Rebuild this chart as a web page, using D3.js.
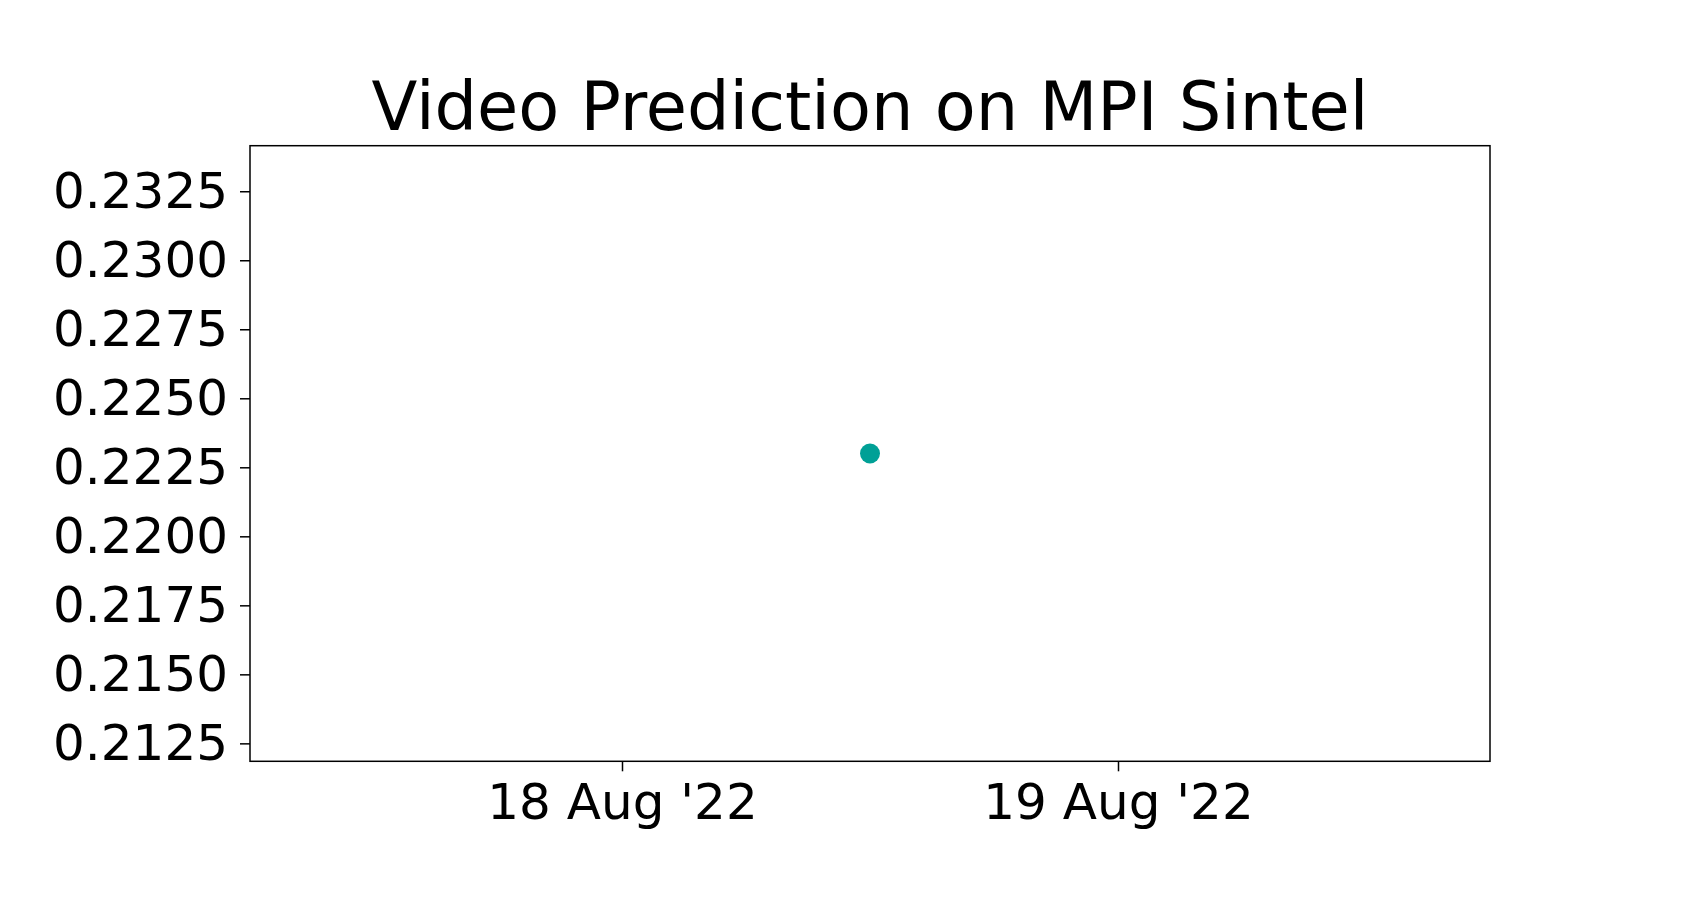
<!DOCTYPE html>
<html><head><meta charset="utf-8">
<script src="https://cdn.jsdelivr.net/npm/d3@7"></script>
<style>body{margin:0;background:#fff}text{font-family:"DejaVu Sans",sans-serif}</style>
</head><body>
<svg id="c" width="1700" height="900"></svg>
<script>
const title = "Video Prediction on MPI Sintel";
const dates = ["2022-08-18T12:00:00"];
const values = [0.223];
const yTicks = [0.2125,0.2150,0.2175,0.2200,0.2225,0.2250,0.2275,0.2300,0.2325];
const xTicks = ["2022-08-18T00:00:00","2022-08-19T00:00:00"];

const svg = d3.select("#c");
const L=250,R=1490,T=145.7,B=761.3;
const parse = d3.isoParse;
const d0 = parse(dates[0]);
const dayMs = 86400000;
const x = d3.scaleTime().domain([new Date(+d0-1.25*dayMs), new Date(+d0+1.25*dayMs)]).range([L,R]);
const v = values[0];
const y = d3.scaleLinear().domain([v*0.95, v*1.05]).range([B,T]);

svg.append("rect").attr("width",1700).attr("height",900).attr("fill","#fff");

const fmt = d3.timeFormat("%-d %b '%y");
const xAxis = d3.axisBottom(x).tickValues(xTicks.map(parse)).tickFormat(fmt).tickSize(10).tickPadding(12);
const gx = svg.append("g").attr("transform",`translate(0,${B})`).call(xAxis);
gx.select(".domain").remove();
gx.selectAll("text").attr("font-size",50).attr("fill","#000").attr("font-family","DejaVu Sans");
gx.selectAll("line").attr("stroke","#000").attr("stroke-width",1.5);

const yAxis = d3.axisLeft(y).tickValues(yTicks).tickFormat(d3.format(".4f")).tickSize(10).tickPadding(12);
const gy = svg.append("g").attr("transform",`translate(${L},0)`).call(yAxis);
gy.select(".domain").remove();
gy.selectAll("text").attr("font-size",50).attr("fill","#000").attr("font-family","DejaVu Sans");
gy.selectAll("line").attr("stroke","#000").attr("stroke-width",1.5);

svg.append("rect").attr("x",L).attr("y",T).attr("width",R-L).attr("height",B-T)
  .attr("fill","none").attr("stroke","#000").attr("stroke-width",1.5);

svg.selectAll("circle.pt").data(values).enter().append("circle").attr("class","pt")
  .attr("cx",(d,i)=>x(parse(dates[i]))).attr("cy",d=>y(d)).attr("r",10).attr("fill","#00a096");

svg.append("text").attr("x",(L+R)/2).attr("y",130).attr("text-anchor","middle")
  .attr("font-size",67).attr("fill","#000").text(title);
</script>
</body></html>
